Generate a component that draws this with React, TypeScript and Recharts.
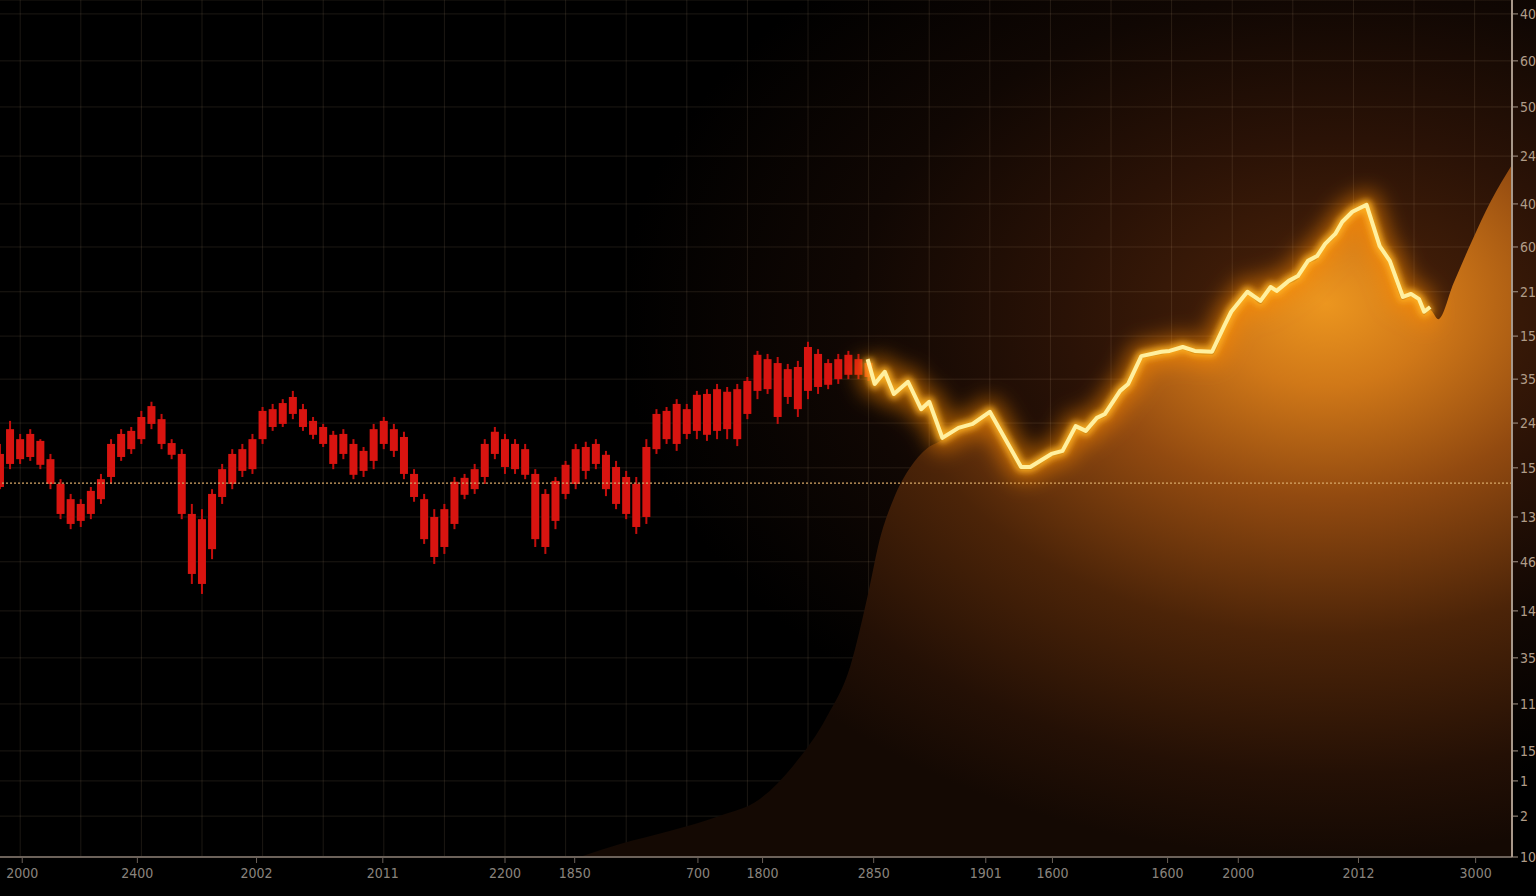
import React from "react";
import {
  ComposedChart,
  Bar,
  Line,
  Area,
  XAxis,
  YAxis,
  CartesianGrid,
  ReferenceLine,
} from "recharts";

// ---- red candles (index = time step) ----
const redHigh = [
  95.0, 100.3, 97.3, 98.4, 96.1, 92.7, 86.9, 83.5, 82.3, 85.1,
  88.1, 96.1, 98.4, 98.9, 102.6, 104.7, 101.9, 96.1, 93.8, 81.2,
  80.0, 84.6, 90.4, 93.8, 95.0, 97.3, 103.5, 104.2, 105.3, 107.2,
  104.2, 101.2, 99.6, 98.0, 98.4, 96.1, 94.3, 99.6, 101.2, 99.6,
  97.8, 89.2, 83.5, 80.0, 81.2, 87.4, 88.1, 90.4, 96.1, 98.9,
  97.3, 96.1, 95.0, 89.2, 84.6, 87.4, 91.1, 95.0, 95.5, 96.1,
  93.4, 91.1, 88.8, 87.4, 96.1, 103.0, 103.5, 105.3, 104.2, 107.2,
  107.6, 108.8, 108.1, 108.8, 110.4, 116.4, 115.7, 115.0, 113.4, 114.1,
  118.5, 116.8, 114.5, 115.7, 116.4, 115.7, 114.5,
];
const redLow = [
  84.6, 89.2, 90.4, 91.1, 89.2, 84.6, 77.7, 75.4, 75.9, 77.7,
  81.2, 85.8, 91.1, 92.7, 95.0, 98.4, 93.8, 91.5, 77.7, 62.8,
  60.5, 68.5, 81.2, 84.6, 87.4, 88.1, 95.0, 98.0, 98.9, 100.7,
  98.0, 96.1, 94.3, 89.2, 91.5, 86.9, 87.4, 89.2, 93.8, 92.0,
  86.9, 81.7, 72.0, 67.4, 69.7, 75.4, 82.3, 83.5, 85.8, 91.5,
  88.1, 88.1, 86.9, 71.3, 69.7, 75.4, 82.3, 84.6, 86.9, 89.2,
  83.0, 80.0, 77.7, 74.3, 76.6, 92.7, 95.0, 93.4, 96.1, 96.1,
  95.7, 96.1, 96.1, 94.5, 100.7, 105.3, 106.5, 99.6, 104.2, 101.2,
  105.3, 106.5, 107.6, 108.8, 109.9, 109.9, 109.5,
];
const redOpen = [
  92.7, 98.4, 96.1, 97.3, 95.7, 91.5, 85.8, 82.3, 81.2, 84.2,
  86.9, 95.0, 97.3, 98.0, 101.2, 103.7, 100.7, 95.2, 92.7, 78.9,
  77.7, 83.5, 89.2, 92.7, 93.8, 96.1, 102.6, 103.0, 104.4, 105.8,
  103.0, 100.3, 98.9, 97.1, 97.3, 95.0, 93.4, 98.4, 100.3, 98.4,
  96.6, 88.1, 82.3, 78.2, 80.0, 86.3, 87.2, 89.2, 95.0, 97.8,
  96.1, 95.0, 93.8, 88.1, 83.5, 86.5, 90.2, 93.8, 94.3, 95.0,
  92.5, 89.7, 87.4, 85.8, 94.3, 101.9, 102.6, 104.2, 103.0, 106.3,
  106.5, 107.6, 107.0, 107.6, 109.5, 115.5, 114.5, 113.6, 112.2, 112.7,
  117.3, 115.7, 113.6, 114.5, 115.5, 114.5, 113.6,
];
const redClose = [
  85.1, 90.4, 91.5, 92.0, 90.2, 85.8, 78.9, 76.6, 77.3, 78.9,
  82.3, 87.4, 92.0, 93.8, 96.1, 99.6, 95.0, 92.5, 78.9, 65.1,
  62.8, 70.8, 82.8, 85.8, 88.8, 89.2, 96.1, 98.9, 99.6, 101.9,
  98.9, 97.1, 95.0, 90.4, 92.7, 87.9, 88.8, 91.1, 95.0, 93.4,
  88.1, 82.8, 73.1, 69.0, 71.3, 76.6, 83.3, 84.6, 87.4, 92.7,
  89.7, 89.2, 87.9, 73.1, 71.3, 77.3, 83.5, 85.8, 88.8, 90.4,
  84.6, 81.2, 78.9, 75.9, 78.2, 93.8, 96.1, 95.0, 97.3, 98.0,
  97.1, 98.0, 98.4, 96.1, 101.9, 107.2, 107.6, 101.2, 105.8, 103.0,
  107.2, 108.1, 108.6, 109.9, 110.9, 110.9, 110.4,
];

// ---- glowing yellow line ----
const yellowT = [
  85.9, 86.6, 87.6, 88.5, 89.9, 91.2, 92.0, 93.3, 94.9, 96.3, 98.0, 101.1,
  102.0, 104.1, 105.2, 106.5, 107.5, 108.6, 109.4, 110.9, 111.7, 113.0, 115.0,
  115.8, 117.1, 118.3, 120.0, 121.2, 121.9, 123.5, 124.8, 125.8, 126.4, 127.6,
  128.5, 129.5, 130.4, 131.2, 132.2, 132.9, 133.9, 135.3, 136.6, 137.6, 138.9,
  139.7, 140.5, 141.0, 141.6,
];
const yellowV = [
  114.5, 108.8, 111.6, 106.5, 109.3, 103.0, 104.7, 96.4, 98.7, 99.6, 102.4, 89.7,
  89.7, 92.7, 93.4, 99.1, 98.0, 101.0, 101.9, 107.2, 108.8, 115.2, 116.2,
  116.4, 117.3, 116.4, 116.2, 122.1, 125.4, 130.0, 127.9, 131.1, 130.2, 132.5,
  133.6, 137.1, 138.2, 141.0, 143.3, 146.1, 148.4, 150.0, 140.5, 137.1, 128.8,
  129.5, 128.3, 125.4, 126.5,
];

// ---- orange glow area ----
const glowT = [
  57.4, 61.4, 66.3, 71.3, 75.2, 78.5, 81.9, 84.2, 85.9, 87.1, 88.5, 90.1, 91.8,
  93.1, 94.9, 96.3, 98.0, 101.1, 102.0, 104.1, 105.2, 106.5, 107.5, 108.6,
  109.4, 110.9, 111.7, 113.0, 115.0, 117.1, 118.3, 120.0, 121.2, 121.9, 123.5,
  124.8, 125.8, 127.6, 128.5, 129.5, 130.4, 131.2, 132.2, 132.9, 133.9, 135.3,
  136.6, 137.6, 138.9, 139.7, 140.5, 141.0, 141.6, 142.4, 143.9, 145.7, 147.6,
  149.7,
];
const glowV = [
  0, 3.0, 6.0, 9.5, 13.3, 20.9, 32.4, 44.0, 60.0, 73.0, 82.5, 89.5, 94.0,
  95.7, 98.0, 99.0, 101.5, 89.0, 89.0, 92.0, 92.7, 98.4, 97.3, 100.3, 101.2,
  106.5, 108.1, 114.5, 115.5, 116.6, 115.7, 115.5, 121.4, 124.7, 129.3, 127.2,
  130.4, 131.8, 132.9, 136.4, 137.5, 140.3, 142.6, 145.4, 147.7, 149.3, 139.8,
  136.4, 128.1, 128.8, 127.6, 124.7, 125.8, 123.7, 131.9, 141.5, 150.8, 159.2,
];

// ---- axes ----
const xTicks = [2.2, 13.6, 25.4, 37.9, 50.0, 56.9, 69.1, 75.5, 86.5, 97.6, 104.2, 115.6, 122.6, 134.5, 146.1];
const xLabels = ["2000", "2400", "2002", "2011", "2200", "1850", "700", "1800", "2850", "1901", "1600", "1600", "2000", "2012", "3000"];
const xGrid = [2, 8, 14, 20, 26, 32, 38, 44, 50, 56, 62, 68, 74, 80, 86, 92, 98, 104, 110, 116, 122, 128, 134, 140, 146];
const yTicks = [0, 9.4, 17.5, 24.4, 35.2, 45.8, 56.6, 67.9, 78.2, 89.5, 99.8, 109.9, 119.8, 130.0, 140.3, 150.2, 161.2, 172.5, 183.1, 193.9];
const yLabels = ["10", "2", "1", "15", "11", "35", "14", "46", "13", "15", "24", "35", "15", "21", "60", "40", "24", "50", "60", "40"];
const dottedLevel = 86.0;

// build table
const table = (() => {
  const m = new Map<number, any>();
  const get = (t: number) => {
    if (!m.has(t)) m.set(t, { t });
    return m.get(t);
  };
  redHigh.forEach((h, i) => {
    const r = get(i);
    r.hi = h;
    r.lo = redLow[i];
    r.op = redOpen[i];
    r.cl = redClose[i];
  });
  yellowT.forEach((t, i) => (get(t).y = yellowV[i]));
  glowT.forEach((t, i) => (get(t).g = glowV[i]));
  return Array.from(m.values()).sort((a, b) => a.t - b.t);
})();

const BODY_W = 8;
const WICK_W = 2;

const Candle = (props: any) => {
  const { x, y, width, height, payload } = props;
  if (payload == null || payload.hi == null || x == null || y == null) return null;
  const top = Math.min(y, y + height);
  const h = Math.abs(height);
  const span = payload.hi - payload.lo || 1;
  const bTop = top + ((payload.hi - Math.max(payload.op, payload.cl)) / span) * h;
  const bBot = top + ((payload.hi - Math.min(payload.op, payload.cl)) / span) * h;
  const cx = x + (width || 0) / 2;
  return (
    <g>
      <rect x={cx - WICK_W / 2} y={top} width={WICK_W} height={h} fill="#c40e0c" />
      <rect
        x={cx - BODY_W / 2}
        y={bTop}
        width={BODY_W}
        height={Math.max(1, bBot - bTop)}
        fill="#d81410"
      />
    </g>
  );
};

const font = '"Liberation Sans Narrow", "DejaVu Sans Condensed", "Roboto Condensed", sans-serif';

export default function App() {
  return (
    <div
      style={{
        position: "absolute",
        left: 0,
        top: 0,
        width: 1536,
        height: 896,
        overflow: "hidden",
        background:
          "radial-gradient(ellipse 720px 480px at 1340px 320px, #4e2409 0%, #2a1206 38%, #100703 68%, #000 100%), #000",
      }}
    >
      <ComposedChart
        width={1536}
        height={896}
        data={table}
        margin={{ top: 0, right: 0, bottom: 0, left: 0 }}
      >
        <defs>
          <radialGradient id="glowFill" cx="0.8" cy="0.2" r="0.8" fx="0.8" fy="0.2">
            <stop offset="0%" stopColor="#ec961f" />
            <stop offset="15%" stopColor="#d07818" />
            <stop offset="35%" stopColor="#924a10" />
            <stop offset="60%" stopColor="#4c2408" />
            <stop offset="85%" stopColor="#241005" />
            <stop offset="100%" stopColor="#140903" />
          </radialGradient>
          <filter id="blurWide" x="-20%" y="-20%" width="140%" height="140%">
            <feGaussianBlur stdDeviation="10" />
          </filter>
          <filter id="blurMid" x="-20%" y="-20%" width="140%" height="140%">
            <feGaussianBlur stdDeviation="3" />
          </filter>
          <filter id="blurRed" x="-20%" y="-20%" width="140%" height="140%">
            <feGaussianBlur stdDeviation="0.7" />
          </filter>
        </defs>
        <XAxis
          type="number"
          dataKey="t"
          domain={[0, 149.7]}
          ticks={xTicks}
          interval={0}
          tickFormatter={(v: number, i: number) => xLabels[i] ?? ""}
          height={39}
          axisLine={{ stroke: "#6c625a", strokeWidth: 2 }}
          tickLine={{ stroke: "#6c625a" }}
          tickSize={6}
          tickMargin={5}
          tick={{ fill: "#8a847e", fontSize: 14, fontFamily: font }}
        />
        <YAxis
          orientation="right"
          type="number"
          domain={[0, 197.1]}
          ticks={yTicks}
          interval={0}
          tickFormatter={(v: number, i: number) => yLabels[i] ?? ""}
          width={24}
          axisLine={{ stroke: "#a8988a", strokeWidth: 2 }}
          tickLine={{ stroke: "#a8988a" }}
          tickSize={6}
          tickMargin={2}
          tick={{ fill: "#b09c88", fontSize: 14, fontFamily: font }}
        />
        <Area
          type="monotone"
          dataKey="g"
          connectNulls
          stroke="none"
          fill="url(#glowFill)"
          fillOpacity={1}
          dot={false}
          activeDot={false}
          isAnimationActive={false}
        />
        <CartesianGrid
          stroke="rgba(255,215,170,0.11)"
          strokeWidth={1}
          verticalValues={xGrid}
        />
        <ReferenceLine
          y={dottedLevel}
          stroke="#d8a868"
          strokeWidth={1.3}
          strokeDasharray="2 2"
        />
        <Bar
          dataKey={(d: any) => (d.hi == null ? null : [d.lo, d.hi])}
          barSize={6}
          shape={<Candle />}
          isAnimationActive={false}
          filter="url(#blurRed)"
        />
        <Line
          type="linear"
          dataKey="y"
          connectNulls
          stroke="#ff8a00"
          strokeOpacity={0.55}
          strokeWidth={28}
          strokeLinejoin="round"
          dot={false}
          activeDot={false}
          filter="url(#blurWide)"
          isAnimationActive={false}
        />
        <Line
          type="linear"
          dataKey="y"
          connectNulls
          stroke="#ffb424"
          strokeOpacity={0.9}
          strokeWidth={10}
          strokeLinejoin="round"
          dot={false}
          activeDot={false}
          filter="url(#blurMid)"
          isAnimationActive={false}
        />
        <Line
          type="linear"
          dataKey="y"
          connectNulls
          stroke="#fff0a0"
          strokeWidth={4}
          strokeLinejoin="round"
          dot={false}
          activeDot={false}
          isAnimationActive={false}
        />
      </ComposedChart>
    </div>
  );
}
